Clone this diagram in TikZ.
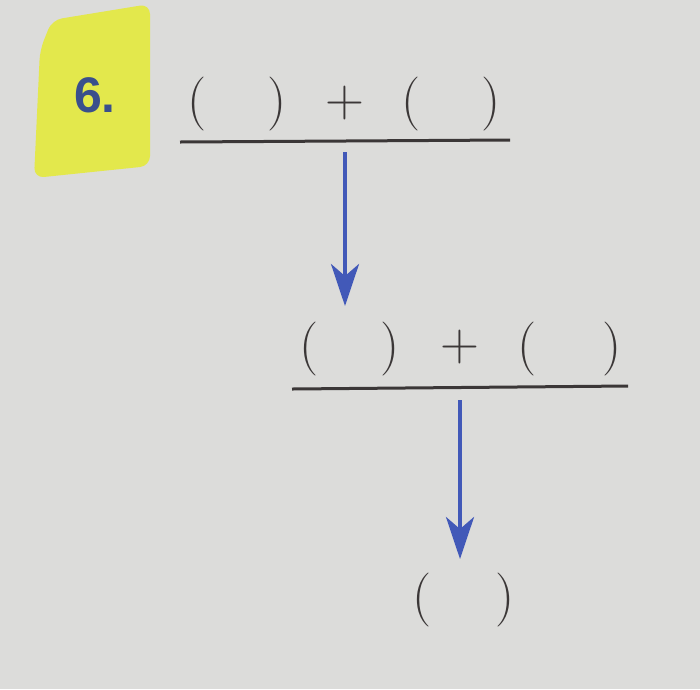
\documentclass[tikz,border=0pt]{standalone}
\usepackage{fontspec}
\newfontfamily\numfont{Liberation Sans}
\usetikzlibrary{arrows.meta}
\definecolor{paper}{HTML}{DCDCDA}
\definecolor{hilite}{HTML}{E3E84C}
\definecolor{numblue}{HTML}{3A4F8C}
\definecolor{ink}{HTML}{3B3737}
\definecolor{arrowblue}{HTML}{4259B8}
\tikzset{
  sym/.style={inner sep=0pt, text=ink, font=\fontsize{54}{60}\selectfont},
  rule/.style={draw=ink, line width=3pt},
  flow/.style={draw=arrowblue, line width=4pt, -{Stealth[length=42pt,width=28pt,inset=12pt]}},
}
\begin{document}
\begin{tikzpicture}[x=1pt,y=-1pt]
\fill[paper] (0,0) rectangle (700,689);
\useasboundingbox (0,0) rectangle (700,689);
% highlight
\fill[hilite, rounded corners=10pt] (52,20) -- (150,4) -- (150,166) -- (34,178) -- (40,50) -- cycle;
\node[text=numblue, font=\numfont\bfseries\fontsize{50}{56}\selectfont, inner sep=0pt] (num) at (95,95) {6.};
% line 1
\node[sym] (a1) at (197,104) {(};
\node[sym] (a2) at (277,104) {)};
\node[sym] (a3) at (345,103) {+};
\node[sym] (a4) at (411,104) {(};
\node[sym] (a5) at (491,104) {)};
\coordinate (r1l) at (180,142);
\coordinate (r1r) at (510,140);
\draw[rule] (r1l) -- (r1r);
\coordinate (s1) at (345,152);
\coordinate (e1) at (345,306);
\draw[flow] (s1) -- (e1);
% line 2
\node[sym] (b1) at (309,349) {(};
\node[sym] (b2) at (390,349) {)};
\node[sym] (b3) at (460,347) {+};
\node[sym] (b4) at (527,349) {(};
\node[sym] (b5) at (612,349) {)};
\coordinate (r2l) at (292,389);
\coordinate (r2r) at (628,386);
\draw[rule] (r2l) -- (r2r);
\coordinate (s2) at (460,400);
\coordinate (e2) at (460,559);
\draw[flow] (s2) -- (e2);
% line 3
\node[sym] (c1) at (422,600) {(};
\node[sym] (c2) at (505,600) {)};
\end{tikzpicture}
\end{document}
